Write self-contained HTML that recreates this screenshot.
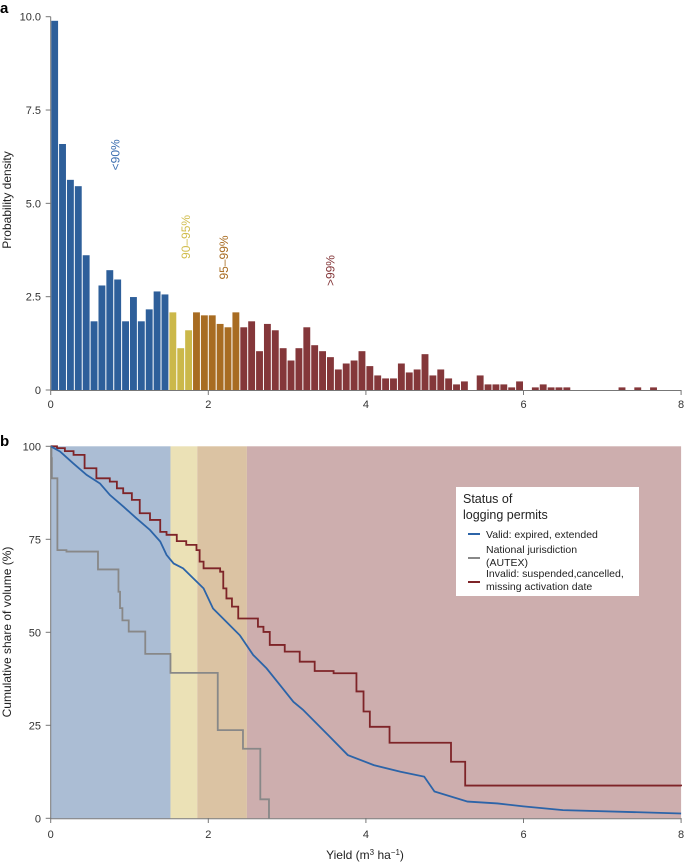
<!DOCTYPE html>
<html><head><meta charset="utf-8"><style>
body{margin:0;background:#fff;}
svg{display:block;font-family:"Liberation Sans",sans-serif;}
</style></head><body>
<svg id="chart" width="685" height="865" viewBox="0 0 685 865">
<g id="pa"></g>
<g id="pb"></g>
</svg>
<script>
// Panel a data: histogram, bin width 0.1
const binStarts = Array.from({length:80},(_, i)=>i/10);
const densities = [9.89,6.59,5.63,5.46,3.61,1.84,2.80,3.21,2.96,1.84,2.49,1.84,2.16,2.64,2.56,
 2.08,1.12,1.60,
 2.08,2.0,2.0,1.77,1.68,2.08,
 1.68,1.84,1.04,1.77,1.60,1.12,0.79,1.12,1.68,1.20,1.04,0.88,0.55,0.71,0.79,1.04,
 0.64,0.39,0.31,0.31,0.71,0.47,0.55,0.96,0.39,0.55,0.31,0.15,0.23,0,0.39,0.15,0.15,0.15,0.07,0.23,
 0,0.07,0.15,0.07,0.07,0.07,0,0,0,0,0,0,0.07,0,0.07,0,0.07,0,0,0];
const groupBreaks = [1.5, 1.8, 2.4]; // <90 | 90-95 | 95-99 | >99
const aYTicks = [0,2.5,5,7.5,10];
const aYTickLabels = ["0","2.5","5.0","7.5","10.0"];
const xTicks = [0,2,4,6,8];
const groupLabels = ["<90%","90–95%","95–99%",">99%"];
const groupLabelX = [0.82,1.72,2.2,3.55];
const groupLabelY = [6.3,4.1,3.55,3.2];

// Panel b data
const shadeBreaks = [0,1.52,1.86,2.49,8];
const grayX = [0,0.01,0.015,0.085,0.2,0.6,0.86,0.88,0.91,0.99,1.2,1.52,2.12,2.44,2.66,2.77];
const grayY = [100,96.8,91.4,72.1,71.7,66.9,60.9,56.5,53.2,50.2,44.2,39.1,23.7,18.7,5.1,0];
const redX = [0,0.08,0.18,0.29,0.43,0.58,0.75,0.84,0.92,1.03,1.13,1.26,1.39,1.47,1.60,1.72,1.85,1.89,1.94,2.15,2.19,2.23,2.30,2.38,2.63,2.70,2.78,2.97,3.16,3.35,3.59,3.88,3.97,4.05,4.30,5.08,5.26,8.0];
const redY = [100,99.5,98.7,97.7,94.1,91.4,90.5,88.7,87.4,85.6,82.0,80.2,77.0,76.2,74.5,73.5,72.1,69.0,67.2,66.3,61.8,59.1,56.9,53.7,51.5,50.1,46.6,44.8,42.1,39.6,39.0,34.1,28.7,24.6,20.3,15.2,8.8,8.6];
const blueX = [0,0.118,0.287,0.456,0.626,0.752,0.922,1.09,1.26,1.39,1.47,1.56,1.68,1.81,1.94,2.06,2.23,2.40,2.57,2.74,2.91,3.08,3.20,3.52,3.77,4.10,4.44,4.74,4.87,5.29,5.67,6.0,6.5,8.0];
const blueY = [100,98.6,95.4,92.3,90.0,86.9,83.8,80.6,77.5,74.4,70.8,68.5,67.2,64.5,61.8,56.4,52.8,49.2,43.9,40.3,35.8,31.3,29.2,22.4,17.0,14.3,12.5,11.2,7.2,4.5,4.0,3.2,2.2,1.3];
const bYTicks = [0,25,50,75,100];

const NS="http://www.w3.org/2000/svg";
function mk(parent,tag,attrs,text){const e=document.createElementNS(NS,tag);for(const k in attrs)e.setAttribute(k,attrs[k]);if(text!==undefined)e.textContent=text;parent.appendChild(e);return e;}
const X0=50.7,XS=78.8;
const xs=v=>X0+v*XS;
const ayS=v=>390-v*37.33;
const byS=v=>818.3-v*3.72;

// ---------- Panel A ----------
const pa=document.getElementById('pa');
let t=mk(pa,'text',{x:0,y:13,'font-size':15,'font-weight':'bold'},'a');


const cols=['#2e5f9a','#cbb84a','#a86c22','#84373a'];
function grp(v){let g=0;for(const b of groupBreaks){if(v>=b-1e-9)g++;}return g;}
densities.forEach((d,i)=>{if(d<=0)return;
 const x=xs(binStarts[i]),w=XS/10;
 const r=mk(pa,'rect',{x:x+0.5,y:ayS(d),width:w-1,height:ayS(0)-ayS(d),fill:cols[grp(binStarts[i]+0.05)]});
 
 
});
let ax=mk(pa,'line',{x1:X0,x2:xs(8),y1:390.5,y2:390.5,stroke:'#777','stroke-width':1});


let ay=mk(pa,'line',{x1:X0,x2:X0,y1:ayS(10),y2:390.5,stroke:'#777','stroke-width':1});


xTicks.forEach(v=>{
 mk(pa,'line',{x1:xs(v),x2:xs(v),y1:390,y2:395,stroke:'#777'});
 const l=mk(pa,'text',{x:xs(v),y:408,'font-size':11,'text-anchor':'middle',fill:'#333'},String(v));
 
 
});
aYTicks.forEach((v,i)=>{
 mk(pa,'line',{x1:X0-5,x2:X0,y1:ayS(v),y2:ayS(v),stroke:'#777'});
 const l=mk(pa,'text',{x:41,y:ayS(v)+4,'font-size':11,'text-anchor':'end',fill:'#333'},aYTickLabels[i]);
 
 
});
t=mk(pa,'text',{transform:'translate(11,200) rotate(-90)','font-size':12,'text-anchor':'middle',fill:'#222'},'Probability density');


const labCols=['#3d6fb0','#d1bd4e','#a86c22','#84373a'];
groupLabels.forEach((s,i)=>{
 const l=mk(pa,'text',{transform:`translate(${xs(groupLabelX[i])+4},${ayS(groupLabelY[i])}) rotate(-90)`,'font-size':12,'text-anchor':'middle',fill:labCols[i]},s);
 
 
});

// ---------- Panel B ----------
const pb=document.getElementById('pb');
t=mk(pb,'text',{x:0,y:446,'font-size':15,'font-weight':'bold'},'b');


const shadeCols=['#abbdd4','#ebe1b6','#dbc3a3','#cdaeae'];
for(let i=0;i<4;i++){
 const r=mk(pb,'rect',{x:xs(shadeBreaks[i]),y:byS(100),width:xs(shadeBreaks[i+1])-xs(shadeBreaks[i]),height:byS(0)-byS(100),fill:shadeCols[i]});
 
 
}
function stepPath(X,Y){let d=`M${xs(X[0])},${byS(Y[0])}`;for(let i=1;i<X.length;i++){d+=`H${xs(X[i])}V${byS(Y[i])}`;}return d;}
function linePath(X,Y){return X.map((x,i)=>(i?'L':'M')+xs(x)+','+byS(Y[i])).join('');}
let p=mk(pb,'path',{d:stepPath(grayX,grayY),fill:'none',stroke:'#888','stroke-width':1.8});


p=mk(pb,'path',{d:stepPath(redX,redY),fill:'none',stroke:'#7e2428','stroke-width':1.8});


p=mk(pb,'path',{d:linePath(blueX,blueY),fill:'none',stroke:'#2c64a8','stroke-width':1.8});


ax=mk(pb,'line',{x1:X0,x2:xs(8),y1:818.8,y2:818.8,stroke:'#777'});


ay=mk(pb,'line',{x1:X0,x2:X0,y1:byS(100),y2:818.8,stroke:'#777'});


xTicks.forEach(v=>{
 mk(pb,'line',{x1:xs(v),x2:xs(v),y1:818,y2:823,stroke:'#777'});
 const l=mk(pb,'text',{x:xs(v),y:838,'font-size':11,'text-anchor':'middle',fill:'#333'},String(v));
 
 
});
bYTicks.forEach(v=>{
 mk(pb,'line',{x1:X0-5,x2:X0,y1:byS(v),y2:byS(v),stroke:'#777'});
 const l=mk(pb,'text',{x:41,y:byS(v)+4,'font-size':11,'text-anchor':'end',fill:'#333'},String(v));
 
 
});
t=mk(pb,'text',{transform:'translate(11,632) rotate(-90)','font-size':12,'text-anchor':'middle',fill:'#222'},'Cumulative share of volume (%)');


t=mk(pb,'text',{x:365,y:859,'font-size':12,'text-anchor':'middle',fill:'#222'});


t.innerHTML='Yield (m<tspan dy="-4" font-size="8">3</tspan><tspan dy="4"> ha</tspan><tspan dy="-4" font-size="8">−1</tspan><tspan dy="4">)</tspan>';

// legend
const lg=mk(pb,'g',{});


mk(lg,'rect',{x:456,y:487,width:183,height:109,fill:'#fff'});
mk(lg,'text',{x:463,y:503,'font-size':12.5,fill:'#222'},'Status of');
mk(lg,'text',{x:463,y:519,'font-size':12.5,fill:'#222'},'logging permits');
const legItems=[['#2c64a8',['Valid: expired, extended'],538],['#888',['National jurisdiction','(AUTEX)'],555],['#7e2428',['Invalid: suspended,cancelled,','missing activation date'],579]];
legItems.forEach(([c,lines,y])=>{
 const e=mk(lg,'g',{});
 
 
 mk(e,'line',{x1:468,x2:480,y1:lines.length>1?y+3:y-4,y2:lines.length>1?y+3:y-4,stroke:c,'stroke-width':2});
 lines.forEach((s,k)=>mk(e,'text',{x:486,y:y+k*13-(lines.length>1?2:0),'font-size':10.5,fill:'#222'},s));
});
</script>
</body></html>
